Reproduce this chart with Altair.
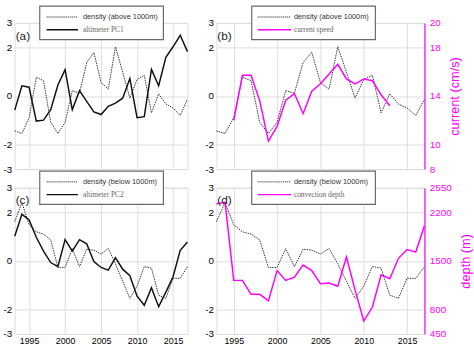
import altair as alt
import pandas as pd

years = list(range(1993, 2018))
density_above = [-1.43, -1.54, -0.89, 0.77, 0.63, -1.08, -1.54, -1.08, 0.22, 0.11,
                 1.37, 1.79, 0.55, 0.28, 2.02, 0.98, -0.09, 0.68, 0.85, -0.69,
                 0.09, -0.33, -0.49, -0.80, -0.13]
altimeter_pc1 = [-0.58, 0.42, 0.36, -1.03, -0.99, -0.56, 0.45, 1.08, -0.56, 0.22,
                 -0.22, -0.65, -0.76, -0.42, -0.29, -0.09, 0.72, -0.89, -0.85, 1.09,
                 0.42, 1.59, 2.02, 2.49, 1.82]
current_years = list(range(1995, 2014))
current_speed = [12.0, 15.7, 15.7, 13.6, 10.3, 11.5, 13.65, 14.2, 12.55, 14.4,
                 15.0, 15.8, 16.6, 15.4, 15.0, 15.4, 15.25, 14.1, 13.2]
density_below = [1.61, 2.39, 1.48, 1.19, 1.10, 0.86, -0.27, -0.27, 0.50, -0.24,
                 0.48, 0.44, 0.28, 0.51, -0.12, -0.84, -1.54, -1.04, -0.23, -0.30,
                 -1.41, -1.54, -0.71, -0.72, -0.24]
altimeter_pc2 = [1.01, 1.91, 1.68, 0.97, 0.40, -0.07, -0.24, 0.87, 0.40, 0.87,
                 0.70, -0.03, -0.27, -0.38, 0.13, -0.34, -0.61, -1.45, -1.82, -1.10,
                 -1.88, -1.28, -0.65, 0.43, 0.77]
convection_depth = [2320, 2340, 1220, 1220, 1020, 1020, 926, 1360, 1220, 1267,
                    1440, 1360, 1173, 1182, 1136, 1556, 1080, 636, 837, 1300,
                    1243, 1537, 1663, 1626, 2004]

year_ticks = [1995, 2000, 2005, 2010, 2015]
left_ticks = [-3, -2, 0, 2, 3]
current_ticks = [8, 10, 14, 18, 20]
depth_ticks = [450, 800, 1500, 2200, 2550]
panel_tags = ["(a)", "(b)", "(c)", "(d)"]
legend_dens = ["density (above 1000m)", "density (above 1000m)",
               "density (below 1000m)", "density (below 1000m)"]
legend_other = ["altimeter PC1", "current speed", "altimeter PC2", "convection depth"]
right_titles = ["current (cm/s)", "depth (m)"]

MAG = "#ff00ff"
FONT = "Liberation Sans"
H = 149
W_L = 176
W_R = 212
PLAIN = "toString(datum.value)"

one = pd.DataFrame({"k": [0]})


def df(yrs, vals):
    return pd.DataFrame({"year": yrs, "value": vals})


def xenc(bottom):
    return alt.X("year:Q", scale=alt.Scale(domain=[1993, 2017], nice=False, zero=False),
                 axis=alt.Axis(values=year_ticks, labels=bottom, ticks=False, domain=False,
                               grid=True, title=None, labelExpr=PLAIN, labelPadding=3,
                               labelFontSize=9))


def yleft():
    return alt.Y("value:Q", scale=alt.Scale(domain=[-3, 3], nice=False),
                 axis=alt.Axis(values=left_ticks, grid=True, title=None, ticks=False,
                               domain=False, labelPadding=3, labelExpr=PLAIN))


def legend_layers(i, box_x0, box_x1, lx0, lx1, tx, other_color):
    box = alt.Chart(one).mark_rect(fill="white", stroke="#6a6a6a", strokeWidth=1.2).encode(
        x=alt.value(box_x0), x2=alt.value(box_x1), y=alt.value(-17), y2=alt.value(17))
    l1 = alt.Chart(one).mark_rule(color="#333", strokeWidth=1, strokeDash=[1.2, 0.8]).encode(
        x=alt.value(lx0), x2=alt.value(lx1), y=alt.value(-6))
    l2 = alt.Chart(one).mark_rule(color=other_color, strokeWidth=1.5).encode(
        x=alt.value(lx0), x2=alt.value(lx1), y=alt.value(7))
    t1 = alt.Chart(one).mark_text(align="left", baseline="middle", font=FONT, fontSize=7.5,
                                  color="#333").encode(
        x=alt.value(tx), y=alt.value(-6), text=alt.value(legend_dens[i]))
    t2 = alt.Chart(one).mark_text(align="left", baseline="middle", font="Liberation Serif",
                                  fontSize=7.5, color="#666").encode(
        x=alt.value(tx), y=alt.value(7), text=alt.value(legend_other[i]))
    tag = alt.Chart(one).mark_text(align="left", baseline="middle", font=FONT, fontSize=12,
                                   color="#222").encode(
        x=alt.value(1), y=alt.value(13), text=alt.value(panel_tags[i]))
    return [box, l1, l2, t1, t2, tag]


def left_panel(i, dens_vals, other_vals, bottom):
    d = alt.Chart(df(years, dens_vals)).mark_line(color="#333", strokeWidth=1,
                                                   strokeDash=[1.5, 1]).encode(
        x=xenc(bottom), y=yleft())
    o = alt.Chart(df(years, other_vals)).mark_line(color="#111", strokeWidth=1.5).encode(
        x=xenc(bottom), y=yleft())
    return alt.layer(d, o, *legend_layers(i, 25.5, 151.5, 32.5, 64.5, 69.5, "#111")).properties(
        width=W_L, height=H)


def right_panel(i, dens_vals, oyears, other_vals, rdomain, rticks, rtitle, bottom):
    d = alt.Chart(df(years, dens_vals)).mark_line(color="#333", strokeWidth=1,
                                                   strokeDash=[1.5, 1]).encode(
        x=xenc(bottom), y=yleft())
    o = alt.Chart(df(oyears, other_vals)).mark_line(color=MAG, strokeWidth=1.5).encode(
        x=xenc(bottom),
        y=alt.Y("value:Q", scale=alt.Scale(domain=rdomain, nice=False, zero=False),
                axis=alt.Axis(orient="right", values=rticks, grid=False, title=rtitle,
                              ticks=False, domain=True, domainColor=MAG, domainWidth=1.2,
                              labelColor=MAG, labelPadding=5, labelExpr=PLAIN,
                              titleColor=MAG, titleFont=FONT, titleFontSize=13,
                              titleFontWeight="normal", titleAngle=270, titlePadding=22)))
    base = alt.layer(d, o).resolve_scale(y="independent")
    return alt.layer(base, *legend_layers(i, 36, 162, 42, 76, 79, MAG)).properties(
        width=W_R, height=H)


pa = left_panel(0, density_above, altimeter_pc1, False)
pb = right_panel(1, density_above, current_years, current_speed, [8, 20], current_ticks,
                 right_titles[0], False)
pc = left_panel(2, density_below, altimeter_pc2, True)
pd_ = right_panel(3, density_below, years, convection_depth, [450, 2550], depth_ticks,
                  right_titles[1], True)

chart = alt.concat(pa, pb, pc, pd_, columns=2, spacing={"row": 19, "column": 29.5},
                   bounds="flush").properties(
    padding={"left": 2, "top": 1, "right": 0, "bottom": 0}
).configure_view(stroke="#555", strokeWidth=1).configure_axis(
    labelFont=FONT, labelFontSize=9, labelColor="#222", gridColor="#e2e2e2", gridWidth=1
).configure(background="white")

chart.save("out.html", embed_options={"renderer": "svg", "actions": False})
